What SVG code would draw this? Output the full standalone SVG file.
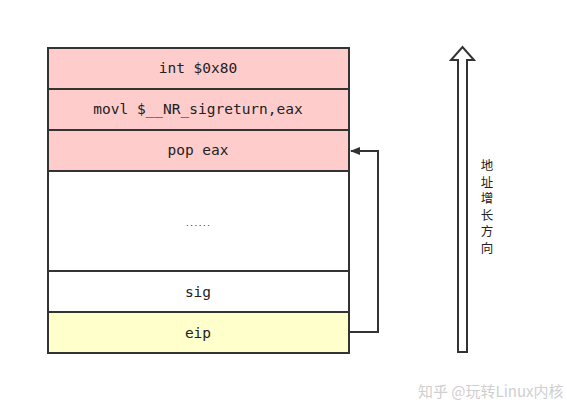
<svg xmlns="http://www.w3.org/2000/svg" width="567" height="416" viewBox="0 0 567 416">
<style>
.cell{stroke:#333;stroke-width:2}
.t{font-family:"DejaVu Sans Mono","Liberation Mono",monospace;font-size:14.5px;fill:#222;text-anchor:middle}
.cn{font-family:"Noto Sans CJK SC",sans-serif;font-size:12.5px;fill:#222}
</style>
<defs>
<marker id="ah" markerWidth="10" markerHeight="8" refX="9" refY="4" orient="auto" markerUnits="userSpaceOnUse">
<path d="M0,0 L10,4 L0,8 Z" fill="#333"/>
</marker>
</defs>
<rect width="567" height="416" fill="#fff"/>
<g id="n1"><rect class="cell" x="48" y="48" width="301" height="41" fill="#FFCCCC"/><text class="t" x="198" y="73">int $0x80</text></g>
<g id="n2"><rect class="cell" x="48" y="89" width="301" height="41" fill="#FFCCCC"/><text class="t" x="198" y="114">movl $__NR_sigreturn,eax</text></g>
<g id="n3"><rect class="cell" x="48" y="130" width="301" height="41" fill="#FFCCCC"/><text class="t" x="198" y="155">pop eax</text></g>
<g id="n4"><rect class="cell" x="48" y="171" width="301" height="100" fill="#fff"/><text class="t" x="198" y="226" style="font-size:7px">......</text></g>
<g id="n5"><rect class="cell" x="48" y="271" width="301" height="41" fill="#fff"/><text class="t" x="198" y="297">sig</text></g>
<g id="n6"><rect class="cell" x="48" y="312" width="301" height="41" fill="#FFFFCC"/><text class="t" x="198" y="338">eip</text></g>
<g id="connectors">
<polyline points="349,332 378,332 378,151 351,151" fill="none" stroke="#333" stroke-width="2" marker-end="url(#ah)"/>
</g>
<g id="growth">
<path d="M458,352 L467,352 L467,60 L474,60 L462.5,47 L451,60 L458,60 Z" fill="#fff" stroke="#333" stroke-width="2" stroke-linejoin="miter"/>
<text class="cn" x="487" y="159" writing-mode="vertical-rl" letter-spacing="4">地址增长方向</text>
</g>
<text x="418" y="397" style="font-family:'Noto Sans CJK SC',sans-serif;font-size:15px;fill:#cfcfcf">知乎 @玩转Linux内核</text>
</svg>
